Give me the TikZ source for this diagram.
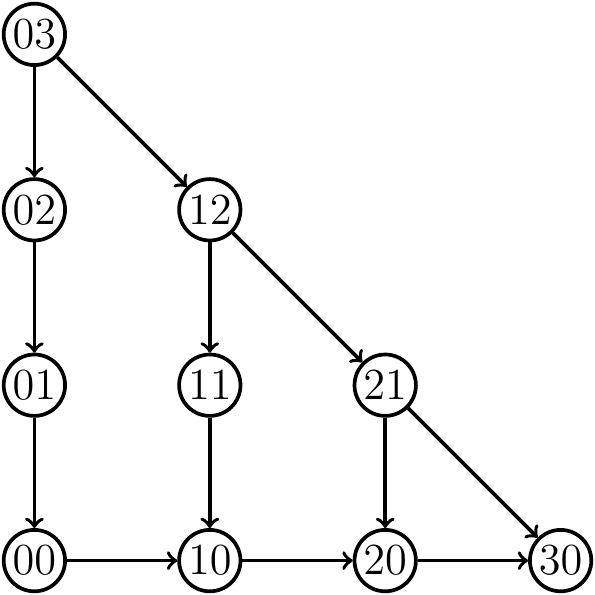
\documentclass[tikz,border=0pt]{standalone}
\usepackage{amsmath}
\usepackage{amssymb}
\usepackage{tikz}

\begin{document}
\begin{tikzpicture}[line width=1.2pt,
    state/.style={circle,draw,minimum size=0.70cm,inner sep=0pt,font=\fontsize{14}{16}\selectfont}]
    \useasboundingbox (-0.392,-0.392) rectangle (6.392,6.392);

    % Grid of states
    \foreach \i/\j in {0/0,0/1,0/2,0/3,1/0,1/1,1/2,2/0,2/1,3/0} {
        \node[state] (n\i\j) at (2*\i,2*\j) {$\i\j$};
    }

    % Downward and rightward transitions
    \foreach \a/\b in {03/02,02/01,01/00,12/11,11/10,21/20,00/10,10/20,20/30} {
        \draw[->] (n\a) -- (n\b);
    }

    % Diagonal transitions
    \foreach \a/\b in {03/12,12/21,21/30} {
        \draw[->] (n\a) -- (n\b);
    }
\end{tikzpicture}
\end{document}
